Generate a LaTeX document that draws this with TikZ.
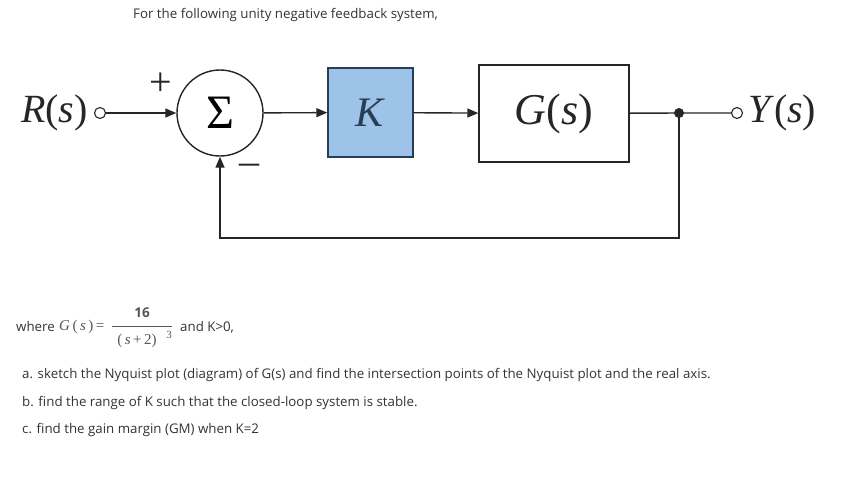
\documentclass[tikz,border=0pt]{standalone}
\usepackage{fontspec}
\setmainfont{Liberation Serif}
\newfontfamily\opensans{Open Sans}
\usetikzlibrary{arrows.meta, positioning}
\definecolor{kblue}{RGB}{157, 195, 232}
\definecolor{kborder}{RGB}{40, 62, 84}
\definecolor{linegray}{RGB}{38, 38, 38}
\definecolor{textgray}{RGB}{51, 51, 51}
\definecolor{mathgray}{RGB}{85, 85, 85}

\begin{document}
\begin{tikzpicture}[
        x=1pt, y=-1pt,
        every node/.style={inner sep=0pt},
        blk/.style={draw=linegray, line width=1.4pt, rectangle},
        sig/.style={font=\fontsize{40}{44}\selectfont, text=linegray},
        sgn/.style={font=\fontsize{40}{40}\selectfont, text=linegray},
        port/.style={draw=linegray, circle, minimum size=11pt, line width=1.1pt, fill=white},
        wire/.style={draw=linegray, line width=1.4pt},
        arr/.style={wire, -{Triangle[length=11pt, width=9pt]}},
        txt/.style={anchor=west, font=\opensans\fontsize{13.3}{15}\selectfont, text=textgray},
        frm/.style={font=\fontsize{15}{17}\selectfont, text=mathgray}
    ]
    \useasboundingbox (0,0) rectangle (842,480);

    % loop
    \node[circle, draw=linegray, line width=1.4pt, minimum size=86pt] (sum) at (220,113)
        {\fontsize{48}{50}\selectfont Σ};
    \node[blk, draw=kborder, fill=kblue, minimum width=85pt, minimum height=89pt] (k) at (370.5,112.5)
        {\fontsize{42}{44}\selectfont\color{kborder}\textit{K}};
    \node[blk, fill=white, minimum width=150pt, minimum height=97pt] (g) at (554,113.5)
        {\fontsize{44}{48}\selectfont\color{linegray}\textit{G}(\textit{s})};
    \node[port] (rin) at (100,113) {};
    \node[sig, left=6pt of rin] (r) {\textit{R}(\textit{s})};
    \node[port] (yout) at (737,113) {};
    \node[sig, right=5pt of yout] (y) {\textit{Y}(\textit{s})};
    \node[sgn] (plus) at (161,84) {+};
    \node[sgn] (minus) at (249,169) {–};
    \coordinate (tap) at (679,113);
    \coordinate (fb) at (220,238);

    \draw[arr] (rin) -- (sum);
    \draw[arr] (sum) -- (k);
    \draw[arr] (k) -- (g);
    \draw[wire] (g) -- (tap) -- (yout);
    \draw[arr] (tap) -- (tap |- fb) -- (fb) -- (sum);
    \fill[linegray] (tap) circle (5pt);

    % text
    \node[txt] (head) at (133,15) {For the following unity negative feedback system,};
    \node[txt] (where) at (16,327) {where};
    \node[frm, anchor=west] (gdef) at (59,327) {\textit{G}\,(\,\textit{s}\,)\,=};
    \node[font=\opensans\fontsize{13.5}{15}\selectfont\bfseries, text=mathgray] (num) at (142,313) {16};
    \node[frm] (den) at (137,341) {(\,\textit{s}\,+\,2)};
    \node[frm, font=\fontsize{11}{12}\selectfont] (pow) at (169,335) {3};
    \draw[mathgray, line width=0.8pt] (112,326) -- (172,326);
    \node[txt] (cond) at (180,327) {and K>0,};
    \node[txt] (qa) at (22,375) {a. sketch the Nyquist plot (diagram) of G(s) and find the intersection points of the Nyquist plot and the real axis.};
    \node[txt] (qb) at (22,403) {b. find the range of K such that the closed-loop system is stable.};
    \node[txt] (qc) at (22,430) {c. find the gain margin (GM) when K=2};
\end{tikzpicture}
\end{document}
